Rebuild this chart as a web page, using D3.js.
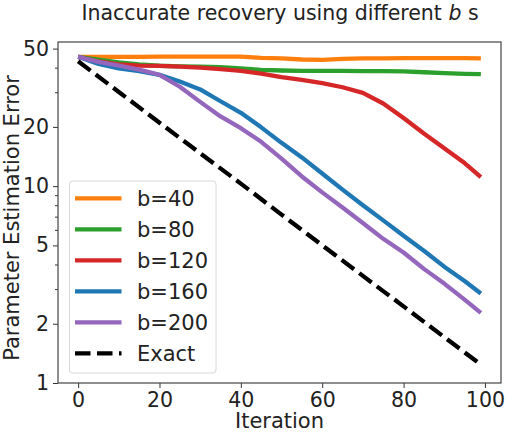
<!DOCTYPE html>
<html>
<head>
<meta charset="utf-8">
<script src="https://cdn.jsdelivr.net/npm/d3@7"></script>
<style>
  body { margin: 0; background: #fff; }
  svg { display: block; font-family: "DejaVu Sans", sans-serif; }
  .tick text { fill: #222; }
</style>
</head>
<body>
<svg width="507" height="432"></svg>
<script>
const width = 507;
const height = 432;
const svg = d3.select("svg");

const iterations = [0, 5, 10, 15, 20, 25, 30, 35, 40, 45, 50, 55, 60, 65, 70, 75, 80, 85, 90, 95, 99];

const b40 = [45.4, 45.4, 45.4, 45.4, 45.5, 45.5, 45.5, 45.5, 45.5, 44.8, 44.6, 44.0, 43.8, 44.3, 44.6, 44.6, 44.7, 44.7, 44.7, 44.7, 44.6];
const b80 = [45.4, 44.0, 42.5, 41.5, 40.9, 40.6, 40.5, 40.2, 39.6, 39.0, 38.7, 38.5, 38.5, 38.5, 38.4, 38.4, 38.3, 37.9, 37.5, 37.2, 37.1];
const b120 = [45.4, 43.0, 41.6, 41.0, 40.8, 40.5, 40.0, 39.3, 38.5, 37.3, 35.8, 34.7, 33.4, 31.8, 29.8, 26.3, 22.2, 18.5, 15.6, 13.1, 11.1];
const b160 = [45.4, 41.8, 39.7, 38.4, 36.8, 34.0, 31.0, 27.0, 23.6, 19.9, 16.6, 14.0, 11.6, 9.6, 8.0, 6.7, 5.6, 4.7, 3.9, 3.3, 2.85];
const b200 = [45.4, 42.8, 41.0, 39.1, 36.8, 32.0, 26.8, 22.6, 19.7, 16.8, 13.8, 11.2, 9.3, 7.8, 6.5, 5.4, 4.6, 3.8, 3.2, 2.65, 2.27];
const exact = [43.1, 30.1, 21.0, 14.7, 10.3, 7.17, 5.01, 3.50, 2.45, 1.71, 1.24];
const exactIterations = [0, 10, 20, 30, 40, 50, 60, 70, 80, 90, 99];

const labels = ["b=40", "b=80", "b=120", "b=160", "b=200", "Exact"];
const colors = ["#ff7f0e", "#2ca02c", "#d62728", "#1f77b4", "#9467bd", "#000000"];
const xTicks = [0, 20, 40, 60, 80, 100];
const yLabelled = [1, 2, 5, 10, 20, 50];
const yMinor = [3, 4, 6, 7, 8, 9, 30, 40];

const series = [
    { name: labels[0], color: colors[0], xs: iterations, ys: b40 },
    { name: labels[1], color: colors[1], xs: iterations, ys: b80 },
    { name: labels[2], color: colors[2], xs: iterations, ys: b120 },
    { name: labels[3], color: colors[3], xs: iterations, ys: b160 },
    { name: labels[4], color: colors[4], xs: iterations, ys: b200 },
    { name: labels[5], color: colors[5], xs: exactIterations, ys: exact, dashed: true }
];

const plotLeft = 58, plotRight = 501, plotTop = 42, plotBottom = 383;

const x = d3.scaleLinear().domain([-4.95, 103.95]).range([plotLeft, plotRight]);
const y = d3.scaleLog().domain([1, 54]).range([plotBottom, plotTop]);

// clip so thick lines stay inside frame
svg.append("clipPath").attr("id", "plotclip")
    .append("rect")
    .attr("x", plotLeft).attr("y", plotTop)
    .attr("width", plotRight - plotLeft).attr("height", plotBottom - plotTop);

const line = d3.line()
    .x(d => x(d[0]))
    .y(d => y(d[1]));

const plot = svg.append("g").attr("clip-path", "url(#plotclip)");

series.forEach(s => {
    plot.append("path")
        .datum(s.xs.map((v, i) => [v, s.ys[i]]))
        .attr("d", line)
        .attr("fill", "none")
        .attr("stroke", s.color)
        .attr("stroke-width", 4.3)
        .attr("stroke-linejoin", "round")
        .attr("stroke-dasharray", s.dashed ? "15.5,6.5" : null);
});

// axes
const xAxis = svg.append("g")
    .attr("transform", `translate(0,${plotBottom})`)
    .call(d3.axisBottom(x).tickValues(xTicks).tickSize(5).tickPadding(4).tickFormat(d3.format("d")));

const yAxis = svg.append("g")
    .attr("transform", `translate(${plotLeft},0)`)
    .call(d3.axisLeft(y).tickValues(yLabelled).tickSize(5).tickPadding(4).tickFormat(d3.format("d")));

svg.append("g")
    .attr("transform", `translate(${plotLeft},0)`)
    .call(d3.axisLeft(y).tickValues(yMinor).tickSize(3).tickFormat(""))
    .call(g => g.select(".domain").remove());

[xAxis, yAxis].forEach(g => {
    g.select(".domain").remove();
    g.selectAll(".tick text").attr("font-size", 20.5).attr("font-family", "DejaVu Sans");
});
svg.selectAll(".tick line").attr("stroke", "#333").attr("stroke-width", 1);

svg.append("rect")
    .attr("x", plotLeft).attr("y", plotTop)
    .attr("width", plotRight - plotLeft).attr("height", plotBottom - plotTop)
    .attr("fill", "none")
    .attr("stroke", "#444")
    .attr("stroke-width", 1.2);

// labels
svg.append("text")
    .attr("x", (plotLeft + plotRight) / 2)
    .attr("y", 428)
    .attr("text-anchor", "middle")
    .attr("font-size", 21)
    .attr("fill", "#222")
    .text("Iteration");

svg.append("text")
    .attr("transform", "translate(18.5,218) rotate(-90)")
    .attr("text-anchor", "middle")
    .attr("font-size", 21)
    .attr("fill", "#222")
    .text("Parameter Estimation Error");

const title = svg.append("text")
    .attr("x", 280)
    .attr("y", 19.5)
    .attr("text-anchor", "middle")
    .attr("font-size", 20.5)
    .attr("fill", "#222");
title.append("tspan").text("Inaccurate recovery using different ");
title.append("tspan").attr("font-style", "italic").text("b");
title.append("tspan").text(" s");

// legend
const legend = svg.append("g");
legend.append("rect")
    .attr("x", 69.5).attr("y", 181)
    .attr("width", 146.5).attr("height", 192)
    .attr("rx", 3)
    .attr("fill", "#fff")
    .attr("fill-opacity", 0.8)
    .attr("stroke", "#d8d8d8")
    .attr("stroke-width", 1);

series.forEach((s, i) => {
    const ly = 198.3 + i * 31;
    legend.append("line")
        .attr("x1", 75).attr("x2", 121.5)
        .attr("y1", ly).attr("y2", ly)
        .attr("stroke", s.color)
        .attr("stroke-width", 4.3)
        .attr("stroke-dasharray", s.dashed ? "15.5,6.5" : null);
    legend.append("text")
        .attr("x", 137)
        .attr("y", ly + 7.5)
        .attr("font-size", 21)
        .attr("fill", "#222")
        .text(s.name);
});
</script>
</body>
</html>
